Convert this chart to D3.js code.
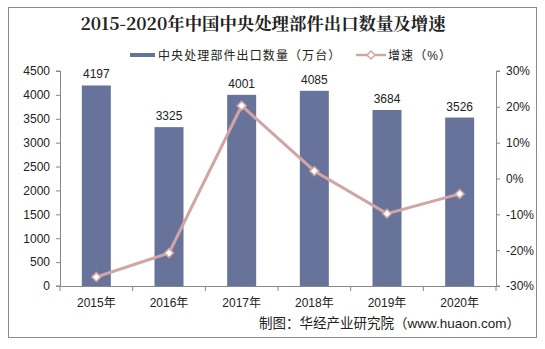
<!DOCTYPE html>
<html>
<head>
<meta charset="utf-8">
<script src="https://cdn.jsdelivr.net/npm/d3@7"></script>
<style>
  body { margin: 0; background: #fff; }
  text { font-family: "Liberation Sans", Arial, "Noto Sans CJK SC", sans-serif; }
</style>
</head>
<body>
<div id="chart"></div>
<script>
var years = ['2015年', '2016年', '2017年', '2018年', '2019年', '2020年'];
var exports = [4197, 3325, 4001, 4085, 3684, 3526];   // 万台
var growth = [-27.5, -20.8, 20.3, 2.1, -9.8, -4.3];   // %
var leftTicks = [0, 500, 1000, 1500, 2000, 2500, 3000, 3500, 4000, 4500];
var rightTicks = [-30, -20, -10, 0, 10, 20, 30];

var W = 545, H = 349;
var barColor = '#67739a',
    lineColor = '#d4a4a4',
    axisColor = '#888';

var plot = {left: 60, right: 496, top: 71, bottom: 286};

var svg = d3.select('#chart').append('svg')
    .attr('width', W)
    .attr('height', H);

// outer frame
svg.append('rect')
    .attr('x', 8.5).attr('y', 7.5)
    .attr('width', 528).attr('height', 330)
    .attr('fill', 'none')
    .attr('stroke', '#8a8a8a');

// title
svg.append('text')
    .attr('x', 263).attr('y', 30)
    .attr('text-anchor', 'middle')
    .style('font-family', '"Noto Serif CJK SC", "DejaVu Serif", "Liberation Serif", serif')
    .style('font-weight', 'bold')
    .style('font-size', '17.4px')
    .attr('fill', '#222')
    .text('2015-2020年中国中央处理部件出口数量及增速');

// legend
var lg = svg.append('g').style('font-size', '12px').attr('fill', '#222');
lg.append('rect').attr('x', 130).attr('y', 53).attr('width', 25).attr('height', 4).attr('fill', barColor);
lg.append('text').attr('x', 158).attr('y', 59.5).attr('fill', '#222')
    .style('letter-spacing', '1.1px')
    .text('中央处理部件出口数量（万台）');
lg.append('line').attr('x1', 356).attr('x2', 386).attr('y1', 55).attr('y2', 55)
    .attr('stroke', lineColor).attr('stroke-width', 2.5);
lg.append('path').attr('transform', 'translate(371,55)')
    .attr('d', d3.symbol(d3.symbolDiamond2, 40)())
    .attr('fill', '#fff').attr('stroke', lineColor).attr('stroke-width', 1.5);
lg.append('text').attr('x', 388).attr('y', 59.5).attr('fill', '#222')
    .style('letter-spacing', '1.1px')
    .text('增速（%）');

// scales
var xc = d3.scalePoint().domain(years).range([plot.left, plot.right]).padding(0.5);
var yL = d3.scaleLinear().domain([0, 4500]).range([plot.bottom, plot.top]);
var yR = d3.scaleLinear().domain([-30, 30]).range([plot.bottom, plot.top]);
var barW = 29;

// bars
svg.append('g').selectAll('rect')
    .data(exports)
    .enter().append('rect')
        .attr('x', function(d, i){ return xc(years[i]) - barW / 2; })
        .attr('y', function(d){ return yL(d); })
        .attr('width', barW)
        .attr('height', function(d){ return yL(0) - yL(d); })
        .attr('fill', barColor);

// bar labels
svg.append('g').selectAll('text')
    .data(exports)
    .enter().append('text')
        .attr('x', function(d, i){ return xc(years[i]); })
        .attr('y', function(d){ return yL(d) - 7; })
        .attr('text-anchor', 'middle')
        .style('font-size', '12px')
        .attr('fill', '#222')
        .text(function(d){ return d; });

// left axis
var axL = svg.append('g')
    .attr('transform', 'translate(' + plot.left + ',0)')
    .call(d3.axisLeft(yL).tickValues(leftTicks).tickSize(4).tickPadding(6)
        .tickFormat(d3.format('d')));
// right axis
var axR = svg.append('g')
    .attr('transform', 'translate(' + plot.right + ',0)')
    .call(d3.axisRight(yR).tickValues(rightTicks).tickSize(4).tickPadding(6)
        .tickFormat(function(d){ return d + '%'; }));
// bottom axis
var xBand = d3.scaleBand().domain(years).range([plot.left, plot.right]);
var axB = svg.append('g')
    .attr('transform', 'translate(0,' + plot.bottom + ')')
    .call(d3.axisBottom(xBand).tickSize(0).tickPadding(12));
svg.append('g').selectAll('line')
    .data(d3.range(years.length + 1))
    .enter().append('line')
        .attr('x1', function(d){ return plot.left + d * xBand.step(); })
        .attr('x2', function(d){ return plot.left + d * xBand.step(); })
        .attr('y1', plot.bottom).attr('y2', plot.bottom + 5)
        .attr('stroke', axisColor);

[axL, axR, axB].forEach(function(a){
    a.select('.domain').attr('stroke', axisColor);
    a.selectAll('.tick line').attr('stroke', axisColor);
    a.selectAll('.tick text').style('font-size', '12px').attr('fill', '#222')
        .style('font-family', '"Liberation Sans", Arial, "Noto Sans CJK SC", sans-serif');
});
axR.select('.domain').attr('d', 'M4,' + plot.top + 'H0.5V' + plot.bottom + 'H4');
axL.select('.domain').attr('d', 'M-4,' + plot.top + 'H0.5V' + plot.bottom + 'H-4');

// growth line
var line = d3.line()
    .x(function(d, i){ return xc(years[i]); })
    .y(function(d){ return yR(d); });
svg.append('path')
    .datum(growth)
    .attr('d', line)
    .attr('fill', 'none')
    .attr('stroke', lineColor)
    .attr('stroke-width', 3);
svg.append('g').selectAll('path')
    .data(growth)
    .enter().append('path')
        .attr('transform', function(d, i){ return 'translate(' + xc(years[i]) + ',' + yR(d) + ')'; })
        .attr('d', d3.symbol(d3.symbolDiamond2, 50)())
        .attr('fill', '#fff')
        .attr('stroke', lineColor)
        .attr('stroke-width', 1.5);

// source
svg.append('text')
    .attr('x', 520).attr('y', 328)
    .attr('text-anchor', 'end')
    .style('font-size', '13.5px')
    .attr('fill', '#222')
    .text('制图：华经产业研究院（www.huaon.com）');
</script>
</body>
</html>
